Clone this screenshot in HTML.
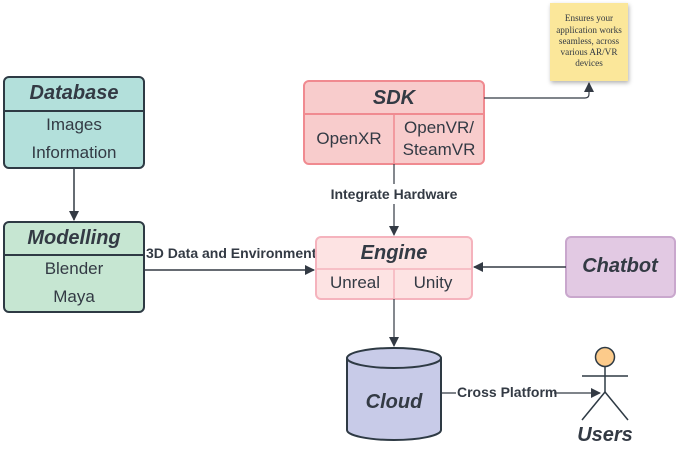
<!DOCTYPE html>
<html><head><meta charset="utf-8"><style>
html,body{margin:0;padding:0;background:#fff;width:685px;height:450px;overflow:hidden}
text{font-family:"Liberation Sans",sans-serif;fill:#333a44}
.h{font-weight:bold;font-style:italic;font-size:20px}
.b{font-size:17px}
.l{font-weight:bold;font-size:14px}
</style></head><body>
<svg width="685" height="450" viewBox="0 0 685 450" xmlns="http://www.w3.org/2000/svg">
<defs><marker id="a" markerWidth="10" markerHeight="10" refX="9" refY="5" orient="auto" markerUnits="userSpaceOnUse"><path d="M0,0 L10,5 L0,10 z" fill="#333a44"/></marker>
<filter id="sh"><feDropShadow dx="1" dy="2" stdDeviation="2" flood-opacity="0.3"/></filter></defs>
<!-- Database -->
<rect x="4" y="77" width="140" height="91" rx="5" fill="#b3e0db" stroke="#2e3a44" stroke-width="2"/>
<line x1="4" y1="111" x2="144" y2="111" stroke="#2e3a44" stroke-width="2"/>
<text class="h" x="74" y="99" text-anchor="middle">Database</text>
<text class="b" x="74" y="130" text-anchor="middle">Images</text>
<text class="b" x="74" y="158" text-anchor="middle">Information</text>
<line x1="74" y1="168" x2="74" y2="220" stroke="#333a44" stroke-width="1.5" marker-end="url(#a)"/>
<!-- Modelling -->
<rect x="4" y="222" width="140" height="90" rx="5" fill="#c6e6d2" stroke="#2e3a44" stroke-width="2"/>
<line x1="4" y1="255" x2="144" y2="255" stroke="#2e3a44" stroke-width="2"/>
<text class="h" x="74" y="244" text-anchor="middle">Modelling</text>
<text class="b" x="74" y="274" text-anchor="middle">Blender</text>
<text class="b" x="74" y="302" text-anchor="middle">Maya</text>
<line x1="144" y1="270" x2="314" y2="270" stroke="#333a44" stroke-width="1.5" marker-end="url(#a)"/>
<text class="l" x="146" y="258">3D Data and Environment</text>
<!-- SDK -->
<rect x="304" y="81" width="180" height="83" rx="5" fill="#f8cccc" stroke="#f08a90" stroke-width="2"/>
<line x1="304" y1="114" x2="484" y2="114" stroke="#f08a90" stroke-width="2"/>
<line x1="394" y1="114" x2="394" y2="164" stroke="#f08a90" stroke-width="1.5"/>
<text class="h" x="394" y="104" text-anchor="middle">SDK</text>
<text class="b" x="349" y="144" text-anchor="middle">OpenXR</text>
<text class="b" x="439" y="133" text-anchor="middle">OpenVR/</text>
<text class="b" x="439" y="155" text-anchor="middle">SteamVR</text>
<path d="M484,98 L585,98 Q589,98 589,94 L589,83" fill="none" stroke="#333a44" stroke-width="1.2" marker-end="url(#a)"/>
<!-- note -->
<rect x="550" y="3" width="78" height="78" fill="#fbe79a" filter="url(#sh)"/>
<g text-anchor="middle">
<text x="589" y="21" style="font-family:'Liberation Serif',serif;font-size:9.2px">Ensures your</text>
<text x="589" y="33" style="font-family:'Liberation Serif',serif;font-size:9.2px">application works</text>
<text x="589" y="44" style="font-family:'Liberation Serif',serif;font-size:9.2px">seamless, across</text>
<text x="589" y="55" style="font-family:'Liberation Serif',serif;font-size:9.2px">various AR/VR</text>
<text x="589" y="66" style="font-family:'Liberation Serif',serif;font-size:9.2px">devices</text>
</g>
<!-- Integrate -->
<line x1="394" y1="164" x2="394" y2="184" stroke="#333a44" stroke-width="1.2"/>
<line x1="394" y1="204" x2="394" y2="235" stroke="#333a44" stroke-width="1.2" marker-end="url(#a)"/>
<text class="l" x="394" y="199" text-anchor="middle">Integrate Hardware</text>
<!-- Engine -->
<rect x="316" y="237" width="156" height="62" rx="5" fill="#fde3e3" stroke="#f5b3bd" stroke-width="2"/>
<line x1="316" y1="269" x2="472" y2="269" stroke="#f5b3bd" stroke-width="1.5"/>
<line x1="394" y1="269" x2="394" y2="299" stroke="#f5b3bd" stroke-width="1.5"/>
<text class="h" x="394" y="259" text-anchor="middle">Engine</text>
<text class="b" x="355" y="288" text-anchor="middle">Unreal</text>
<text class="b" x="433" y="288" text-anchor="middle">Unity</text>
<!-- Chatbot -->
<rect x="566" y="237" width="109" height="60" rx="5" fill="#e2c9e3" stroke="#c9a7cd" stroke-width="2"/>
<text class="h" x="620" y="272" text-anchor="middle">Chatbot</text>
<line x1="566" y1="267" x2="474" y2="267" stroke="#333a44" stroke-width="1.5" marker-end="url(#a)"/>
<!-- Cloud -->
<line x1="394" y1="299" x2="394" y2="346" stroke="#333a44" stroke-width="1.2" marker-end="url(#a)"/>
<path d="M347,358 L347,430 A47,10 0 0 0 441,430 L441,358" fill="#c8cbe8" stroke="#2e3a44" stroke-width="2"/>
<ellipse cx="394" cy="358" rx="47" ry="10" fill="#c8cbe8" stroke="#2e3a44" stroke-width="2"/>
<text class="h" x="394" y="408" text-anchor="middle">Cloud</text>
<line x1="441" y1="393" x2="600" y2="393" stroke="#333a44" stroke-width="1.2" marker-end="url(#a)"/>
<rect x="456" y="384" width="98" height="16" fill="#fff"/>
<text class="l" x="457" y="397">Cross Platform</text>
<!-- Actor -->
<circle cx="605" cy="357" r="9.5" fill="#fccb8b" stroke="#2e3a44" stroke-width="1.5"/>
<line x1="605" y1="367" x2="605" y2="392" stroke="#2e3a44" stroke-width="1.5"/>
<line x1="582" y1="376" x2="628" y2="376" stroke="#2e3a44" stroke-width="1.5"/>
<line x1="605" y1="392" x2="582" y2="420" stroke="#2e3a44" stroke-width="1.5"/>
<line x1="605" y1="392" x2="628" y2="420" stroke="#2e3a44" stroke-width="1.5"/>
<text class="h" x="605" y="441" text-anchor="middle">Users</text>
</svg>
</body></html>
